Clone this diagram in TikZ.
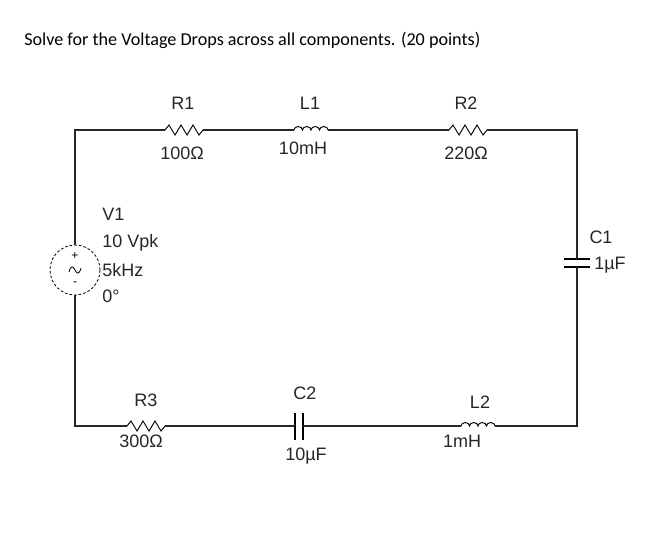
\documentclass[tikz,border=0pt]{standalone}
\usepackage{fontspec}
\setmainfont{Liberation Sans}
\newfontfamily\titlefont{Carlito}
\begin{document}
\begin{tikzpicture}[x=0.75pt,y=-0.75pt,
  wire/.style={line width=0.9pt,black!85},
  lbl/.style={font=\fontsize{13.5}{15}\selectfont,text=black!85,inner sep=0pt},
  res/.pic={\draw[line width=0.7pt] (-19,0)--(-15,-5)--(-9,5)--(-3,-5)--(3,5)--(9,-5)--(15,5)--(19,0);},
  ind/.pic={\draw[line width=0.7pt] (-17,0) arc[start angle=180,end angle=0,x radius=3.19pt,y radius=2.6pt] arc[start angle=180,end angle=0,x radius=3.19pt,y radius=2.6pt] arc[start angle=180,end angle=0,x radius=3.19pt,y radius=2.6pt] arc[start angle=180,end angle=0,x radius=3.19pt,y radius=2.6pt];}
]
\useasboundingbox (0,0) rectangle (653,537);
\node[anchor=west,inner sep=0pt,font=\titlefont\fontsize{13.6}{15}\selectfont] (title) at (24,40) {Solve for the Voltage Drops across all components. (20 points)};
% corners
\coordinate (tl) at (75,130); \coordinate (tr) at (577,130);
\coordinate (bl) at (75,426); \coordinate (br) at (577,426);
% components top
\coordinate (r1a) at (165,130); \coordinate (r1b) at (203,130);
\coordinate (l1a) at (294,130); \coordinate (l1b) at (328,130);
\coordinate (r2a) at (449,130); \coordinate (r2b) at (487,130);
\pic at (184,130) {res};
\pic at (311,130) {ind};
\pic at (468,130) {res};
% bottom
\coordinate (r3a) at (127,426); \coordinate (r3b) at (165,426);
\coordinate (c2a) at (295,426); \coordinate (c2b) at (303,426);
\coordinate (l2a) at (461,426); \coordinate (l2b) at (495,426);
\pic at (146,426) {res};
\pic at (478,426) {ind};
\draw[line width=1.6pt] (295,413)--(295,440) (303,413)--(303,440);
% C1
\coordinate (c1a) at (577,259); \coordinate (c1b) at (577,267);
\draw[line width=1.6pt] (564,259)--(590,259) (564,267)--(590,267);
% source
\node[circle,draw,dashed,dash pattern=on 2pt off 1.5pt,line width=0.6pt,minimum size=37.5pt,inner sep=0pt] (v1) at (75,270) {};
\node[font=\fontsize{9}{9}\selectfont,inner sep=0pt] (vp) at (75,256) {+};
\node[font=\fontsize{9}{9}\selectfont,inner sep=0pt] (vm) at (75,284) {-};
\draw[line width=0.6pt] (69,272) .. controls (71,265) and (73,266) .. (75,270) .. controls (77,274) and (79,275) .. (81,268);
% wires
\draw[wire] (v1.north) -- (tl) -- (r1a);
\draw[wire] (r1b) -- (l1a);
\draw[wire] (l1b) -- (r2a);
\draw[wire] (r2b) -- (tr) -- (c1a);
\draw[wire] (c1b) -- (br) -- (l2b);
\draw[wire] (l2a) -- (c2b);
\draw[wire] (c2a) -- (r3b);
\draw[wire] (r3a) -- (bl) -- (v1.south);
% labels
\node[lbl] (R1) at (183,103) {R1};
\node[lbl] (R1v) at (182,153) {100Ω};
\node[lbl] (L1) at (310,103) {L1};
\node[lbl] (L1v) at (303,148) {10mH};
\node[lbl] (R2) at (466,103) {R2};
\node[lbl] (R2v) at (466,153) {220Ω};
\node[lbl] (C1) at (601,237) {C1};
\node[lbl,anchor=west] (C1v) at (594,265) {1µF};
\node[lbl] (L2) at (480,402) {L2};
\node[lbl] (L2v) at (462,441) {1mH};
\node[lbl] (C2) at (305,393) {C2};
\node[lbl] (C2v) at (306,456) {10µF};
\node[lbl] (R3) at (146,400) {R3};
\node[lbl] (R3v) at (141,441) {300Ω};
\node[lbl,anchor=west] (V1) at (102,214) {V1};
\node[lbl,anchor=west] (V1a) at (102,243) {10 Vpk};
\node[lbl,anchor=west] (V1b) at (102,270) {5kHz};
\node[lbl,anchor=west] (V1c) at (102,296) {0°};
\end{tikzpicture}
\end{document}
